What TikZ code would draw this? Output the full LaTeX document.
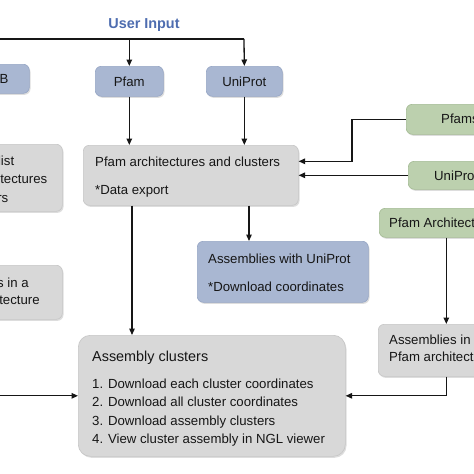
\documentclass[tikz,border=0pt]{standalone}
\usepackage{fontspec}
\setmainfont{Liberation Sans}
\usetikzlibrary{arrows.meta,shadows,calc}
\definecolor{bfill}{HTML}{A9B7D2}
\definecolor{bdraw}{HTML}{95A5C4}
\definecolor{gfill}{HTML}{D8D8D8}
\definecolor{gdraw}{HTML}{C6C6C6}
\definecolor{grfill}{HTML}{BCD0AE}
\definecolor{grdraw}{HTML}{A3BA93}
\definecolor{uiblue}{HTML}{4E6DB0}
\definecolor{ink}{HTML}{161616}
\newcommand\myfs{\fontsize{13.2}{16}\selectfont}
\newcommand\mybig{\fontsize{14.4}{17}\selectfont}
\begin{document}
\begin{tikzpicture}[x=1pt,y=-1pt,
  boxbase/.style={rectangle, rounded corners=6pt, anchor=north west, inner sep=0pt, line width=0.6pt,
     font=\myfs, text=ink,
     drop shadow={shadow xshift=1.2pt, shadow yshift=-1.5pt, opacity=0.22, fill=black!60}},
  bluebox/.style={boxbase, fill=bfill, draw=bdraw},
  graybox/.style={boxbase, fill=gfill, draw=gdraw},
  greenbox/.style={boxbase, fill=grfill, draw=grdraw},
  txt/.style={anchor=base west, inner sep=0pt, font=\myfs, text=ink},
  arr/.style={-{Triangle[length=6.5pt,width=5.5pt]}, line width=1.3pt, draw=ink}]
\useasboundingbox (0,0) rectangle (474,474);
\fill[white] (0,0) rectangle (474,474);
\clip (0,0) rectangle (474,474);

% title
\node[anchor=base, inner sep=0pt, font=\fontsize{14.4}{17}\selectfont\bfseries, text=uiblue] (title) at (144,28) {User Input};

% input boxes
\node[bluebox, minimum width=69pt, minimum height=29pt] (PDB) at (-40,64) {PDB};
\node[bluebox, minimum width=68pt, minimum height=30pt] (Pfam) at (95,66) {Pfam};
\node[bluebox, minimum width=76pt, minimum height=30pt] (UniProt) at (206,66) {UniProt};

% gray boxes
\node[graybox, minimum width=215pt, minimum height=60pt] (PAC) at (83,145) {};
\node[txt] (PACa) at (95,166) {Pfam architectures and clusters};
\node[txt] (PACb) at (95,194) {*Data export};

\node[graybox, minimum width=137pt, minimum height=67pt] (LL) at (-75,144) {};
\node[txt] (LLa) at (-63,165) {Assembly list};
\node[txt] (LLb) at (-63,183.5) {Pfam architectures};
\node[txt] (LLc) at (-63,202) {and clusters};

\node[graybox, minimum width=138pt, minimum height=54pt] (LA) at (-76,265) {};
\node[txt] (LAa) at (-64,287) {Assemblies in a};
\node[txt] (LAb) at (-64,304.5) {Pfam architecture};

\node[bluebox, minimum width=171pt, minimum height=61pt] (AwU) at (197,241) {};
\node[txt] (AwUa) at (208,263.5) {Assemblies with UniProt};
\node[txt] (AwUb) at (208,291) {*Download coordinates};

\node[graybox, rounded corners=12pt, minimum width=267pt, minimum height=121pt] (AC) at (78,335) {};
\node[txt, font=\mybig] (ACt) at (92,361.5) {Assembly clusters};
\node[txt] (AC1) at (92,388) {1. Download each cluster coordinates};
\node[txt] (AC2) at (92,406.5) {2. Download all cluster coordinates};
\node[txt] (AC3) at (92,425) {3. Download assembly clusters};
\node[txt] (AC4) at (92,443.5) {4. View cluster assembly in NGL viewer};

% right side green boxes
\node[greenbox, minimum width=120pt, minimum height=30pt] (Pfams) at (406,104) {};
\node[txt] (Pfamst) at (441,123.5) {Pfams};
\node[greenbox, minimum width=120pt, minimum height=28pt] (UniPr) at (408,161) {};
\node[txt] (UniPrt) at (434,180) {UniProt};
\node[greenbox, minimum width=134pt, minimum height=29pt] (PfArch) at (379,208) {};
\node[txt] (PfArcht) at (389,227.5) {Pfam Architecture};

\node[graybox, minimum width=136pt, minimum height=52pt] (APa) at (378,324) {};
\node[txt] (APaa) at (389,344) {Assemblies in a};
\node[txt] (APab) at (389,361.5) {Pfam architecture};

% connectors
\coordinate (ui) at (244,39);
\draw[arr] (ui) -| (PDB.north);
\draw[arr] (ui) -- (UniProt.north);
\draw[arr] (Pfam.north |- ui) -- (Pfam.north);
\draw[arr] (Pfam.south) -- (Pfam.south |- PAC.north);
\draw[arr] (UniProt.south) -- (UniProt.south |- PAC.north);
\draw[arr] ([xshift=52pt]AwU.north west |- PAC.south) -- ([xshift=52pt]AwU.north west);
\draw[arr] ([xshift=49pt]PAC.south west) -- ([xshift=49pt]PAC.south west |- AC.north);
\coordinate (bend) at (352,0);
\draw[arr] (Pfams.west) -- (Pfams.west -| bend) |- ([yshift=14pt]PAC.east);
\draw[arr] (UniPr.west) -- (UniPr.west -| PAC.east);
\draw[arr] (PfArch.south) -- (PfArch.south |- APa.north);
\draw[arr] (APa.south) |- (AC.east);
\draw[arr] (LA.south) |- (AC.west);
\end{tikzpicture}
\end{document}
